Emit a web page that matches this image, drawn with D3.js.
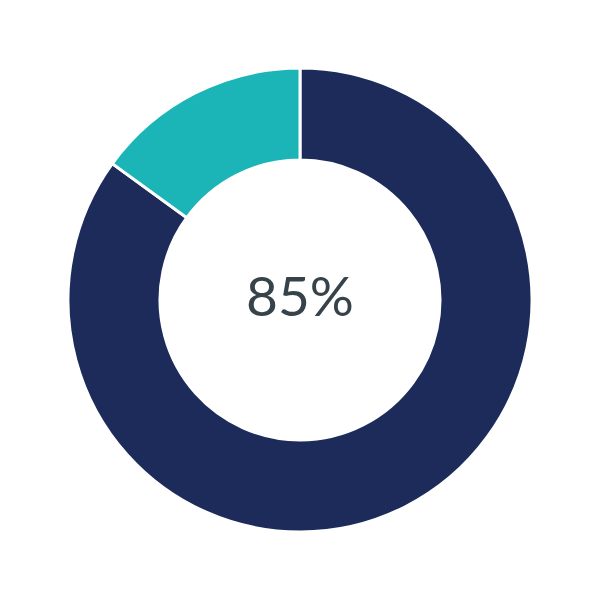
<!DOCTYPE html>
<html>
<head>
<meta charset="utf-8">
<script src="https://d3js.org/d3.v7.min.js"></script>
<style>
  body { margin: 0; background: #fff; }
</style>
</head>
<body>
<div id="container"></div>
<script>
/* CONSTANTS AND GLOBALS */
const width = 600,
  height = 600,
  outerRadius = 232,
  innerRadius = 140;

// data
const categories = ["Yes", "No"];
const values = [85, 15];
const colors = ["#1c2b5a", "#1bb5b8"];
const centerLabel = "85%";

const data = categories.map((c, i) => ({ category: c, value: values[i] }));

/* DRAW */
const svg = d3.select("#container")
  .append("svg")
  .attr("width", width)
  .attr("height", height);

const colorScale = d3.scaleOrdinal()
  .domain(categories)
  .range(colors);

const pie = d3.pie()
  .sort(null)
  .value(d => d.value);

const arc = d3.arc()
  .innerRadius(innerRadius)
  .outerRadius(outerRadius);

const g = svg.append("g")
  .attr("transform", `translate(${width / 2},${height / 2})`);

g.selectAll("path.slice")
  .data(pie(data))
  .join("path")
  .attr("class", "slice")
  .attr("d", arc)
  .attr("fill", d => colorScale(d.data.category))
  .attr("stroke", "#fff")
  .attr("stroke-width", 3);

g.append("text")
  .attr("text-anchor", "middle")
  .attr("y", 16)
  .attr("font-family", "Lato, sans-serif")
  .attr("font-size", 55)
  .attr("fill", "#37434b")
  .text(centerLabel);
</script>
</body>
</html>
